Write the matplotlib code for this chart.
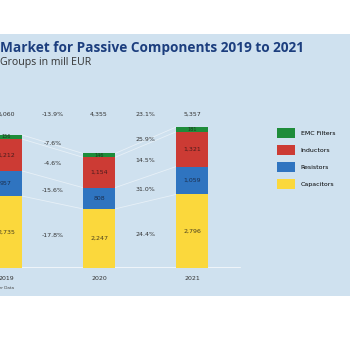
import matplotlib.pyplot as plt
from matplotlib.patches import Rectangle

# Datos del gráfico (mill EUR)
years = ['2019', '2020', '2021']
capacitors = [2735, 2247, 2796]
resistors = [957, 808, 1059]
inductors = [1212, 1154, 1321]
emc_filters = [156, 146, 181]
totals = [5060, 4355, 5357]

# Crecimiento entre años: total, EMC, inductores, resistencias, condensadores
growth_19_20 = ['-13.9%', '-7.6%', '-4.6%', '-15.6%', '-17.8%']
growth_20_21 = ['23.1%', '25.9%', '14.5%', '31.0%', '24.4%']

groups = ['Capacitors', 'Resistors', 'Inductors', 'EMC Filters']
series = [capacitors, resistors, inductors, emc_filters]
colors = ['#fbd83c', '#2f74c0', '#cc3b34', '#1e8c3a']
text_colors = ['#4a4020', '#1c3050', '#4a1c1c', '#1c3a1c']

W, H = 350, 350
fig = plt.figure(figsize=(3.5, 3.5), dpi=100)
fig.patch.set_facecolor('white')

# Panel azul claro de fondo
fig.patches.append(Rectangle((0, 54 / H), 1, 262 / H, transform=fig.transFigure,
                             facecolor='#cfe1ef', edgecolor='none', zorder=-5))

ax = fig.add_axes([0, 82 / H, 1, 234 / H])
ax.set_facecolor('none')
ax.set_zorder(2)
px_per_unit = 0.0263
ax.set_xlim(-6 / 93, 344 / 93)
ax.set_ylim(0, 234 / px_per_unit)
for s in ax.spines.values():
    s.set_visible(False)
ax.set_yticks([])

x = list(range(len(years)))
width = 0.344
bottoms = [0, 0, 0]
mids = []
tops = []
for vals, col, tcol, name in zip(series, colors, text_colors, groups):
    ax.bar(x, vals, width, bottom=bottoms, color=col, label=name, zorder=3)
    m = []
    for i, v in enumerate(vals):
        m.append(bottoms[i] + v / 2)
        ax.text(i, bottoms[i] + v / 2, f'{v:,}', ha='center', va='center',
                fontsize=3.6 if name == 'EMC Filters' else 4.5,
                color=tcol, zorder=4)
    mids.append(m)
    bottoms = [b + v for b, v in zip(bottoms, vals)]
    tops.append(list(bottoms))

# Líneas blancas entre barras
for t in tops:
    for i in range(len(years) - 1):
        ax.plot([i + width / 2, i + 1 - width / 2], [t[i], t[i + 1]],
                color='white', lw=0.6, alpha=0.5, zorder=2)

# Línea base
ax.plot([-0.3, 2.516], [0, 0], color='white', lw=1.2, alpha=0.8, zorder=2)

# Totales
label_y = 154 / px_per_unit
for i, t in enumerate(totals):
    ax.text(i, label_y, f'{t:,}', ha='center', va='center', fontsize=4.5, color='#333333')

# Porcentajes de crecimiento
for j, labels in enumerate([growth_19_20, growth_20_21]):
    ax.text(j + 0.5, label_y, labels[0], ha='center', va='center', fontsize=4.5, color='#333333')
    for k, idx in enumerate([3, 2, 1, 0]):
        y = (mids[idx][j] + mids[idx][j + 1]) / 2
        if idx == 3:
            y += 110
        ax.text(j + 0.5, y, labels[k + 1], ha='center', va='center',
                fontsize=4.5, color='#333333')

ax.set_xticks(x)
ax.set_xticklabels(years, fontsize=4.5, color='#333333')
ax.tick_params(axis='x', length=0, pad=6)

handles, labs = ax.get_legend_handles_labels()
fig.legend(handles[::-1], labs[::-1], loc='upper left',
           bbox_to_anchor=(277 / W, 1 - 128 / H), frameon=False,
           fontsize=4.5, handlelength=2.8, handleheight=2.1, labelspacing=1.1,
           handletextpad=1.0, borderpad=0, borderaxespad=0)

fig.text(0.5 / W, 1 - 48 / H, 'Market for Passive Components 2019 to 2021',
         fontsize=9.8, fontweight='bold', family='Open Sans', color='#1c3e7e',
         ha='left', va='center')
fig.text(0.5 / W, 1 - 62 / H, 'Groups in mill EUR', fontsize=7.6,
         family='Open Sans', color='#333333', ha='left', va='center')
fig.text(14 / W, 1 - 288 / H, 'Member Data', fontsize=3, color='#444444',
         ha='right', va='center')

plt.savefig('out.png', dpi=100)
